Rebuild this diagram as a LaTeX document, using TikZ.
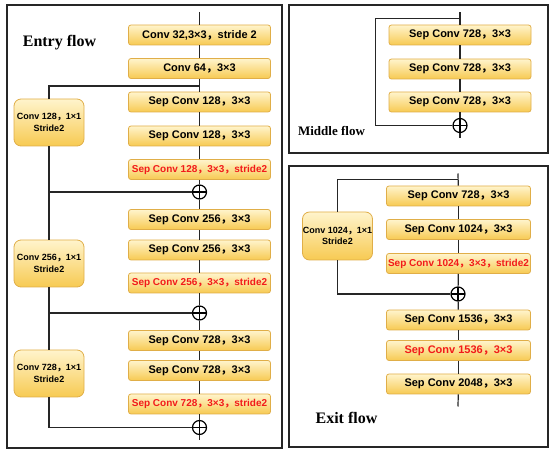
\documentclass[tikz,border=0pt]{standalone}
\usepackage{fontspec}
\setmainfont{Liberation Sans}
\newfontfamily\titlefont{Liberation Serif}
\newfontfamily\cjk{Noto Sans CJK SC}
\newcommand{\cm}{{\cjk ，}}
\definecolor{boxtop}{HTML}{FFF4CC}
\definecolor{boxbot}{HTML}{F7CA52}
\definecolor{boxline}{HTML}{E0AE48}
\definecolor{redtxt}{HTML}{F21A1A}
\tikzstyle{line} = [line width=1.2pt, black!85]
\tikzstyle{frame} = [line width=2pt, black!85]
\tikzstyle{flowbox}=[rectangle, rounded corners=2.5pt, draw=boxline, line width=0.8pt, top color=boxtop, bottom color=boxbot, minimum width=142pt, minimum height=20pt, inner sep=0pt, font=\fontsize{11}{13}\selectfont\bfseries]
\tikzstyle{redbox}=[flowbox, text=redtxt, font=\fontsize{10}{12}\selectfont\bfseries]
\tikzstyle{sidebox}=[rectangle, rounded corners=7pt, draw=boxline, line width=0.8pt, top color=boxtop, bottom color=boxbot, minimum width=70pt, minimum height=47pt, inner sep=0pt, align=center, font=\fontsize{9}{11.5}\selectfont\bfseries]
\tikzstyle{addnode}=[circle, draw, line width=1.2pt, minimum size=14pt, inner sep=0pt, path picture={\draw[line width=1.2pt] (path picture bounding box.north) -- (path picture bounding box.south) (path picture bounding box.west) -- (path picture bounding box.east);}]

\begin{document}
\begin{tikzpicture}[x=1pt, y=-1pt, flowtitle/.style={font=\titlefont\bfseries\fontsize{16}{18}\selectfont}]
        \useasboundingbox (0,0) rectangle (550,457);
        % panels
        \draw[frame] (7,5) rectangle (282,448);
        \draw[frame] (289,5) rectangle (548,153);
        \draw[frame] (289,166) rectangle (548,447);

        % entry flow
        \node[flowtitle] (tEntry) at (59.5,43) {Entry flow};
        \coordinate (et) at (199.5,12);
        \node[flowbox] (e1) at (199.5,35) {Conv 32,3×3\cm stride 2};
        \node[flowbox] (e2) at (199.5,68.5) {Conv 64\cm 3×3};
        \coordinate (eb1) at (199.5,86);
        \node[flowbox] (e3) at (199.5,102) {Sep Conv 128\cm 3×3};
        \node[flowbox] (e4) at (199.5,136) {Sep Conv 128\cm 3×3};
        \node[redbox] (e5) at (199.5,169.5) {Sep Conv 128\cm 3×3\cm stride2};
        \node[addnode] (ep1) at (199.5,192) {};
        \node[flowbox] (e6) at (199.5,219.5) {Sep Conv 256\cm 3×3};
        \node[flowbox] (e7) at (199.5,250) {Sep Conv 256\cm 3×3};
        \node[redbox] (e8) at (199.5,283) {Sep Conv 256\cm 3×3\cm stride2};
        \node[addnode] (ep2) at (199.5,313) {};
        \node[flowbox] (e9) at (199.5,340.5) {Sep Conv 728\cm 3×3};
        \node[flowbox] (e10) at (199.5,370.5) {Sep Conv 728\cm 3×3};
        \node[redbox] (e11) at (199.5,404) {Sep Conv 728\cm 3×3\cm stride2};
        \node[addnode] (ep3) at (199.5,427.5) {};
        \coordinate (ee) at (199.5,440);

        \node[sidebox] (s1) at (49,122.5) {Conv 128\cm 1×1\\Stride2};
        \node[sidebox] (s2) at (49,263.5) {Conv 256\cm 1×1\\Stride2};
        \node[sidebox] (s3) at (49,373.5) {Conv 728\cm 1×1\\Stride2};

        \draw[line] (et) -- (e1);
        \draw[line] (e1) -- (e2);
        \draw[line] (e2) -- (e3);
        \draw[line] (e3) -- (e4);
        \draw[line] (e4) -- (e5);
        \draw[line] (e5) -- (ep1);
        \draw[line] (ep1) -- (e6);
        \draw[line] (e6) -- (e7);
        \draw[line] (e7) -- (e8);
        \draw[line] (e8) -- (ep2);
        \draw[line] (ep2) -- (e9);
        \draw[line] (e9) -- (e10);
        \draw[line] (e10) -- (e11);
        \draw[line] (e11) -- (ep3);
        \draw[line] (ep3) -- (ee);

        \draw[line] (eb1) -| (s1);
        \draw[line] (s1) -- (s2);
        \draw[line] (ep1) -- (ep1 -| s1);
        \draw[line] (s2) -- (s3);
        \draw[line] (ep2) -- (ep2 -| s2);
        \draw[line] (s3) |- (ep3);

        % middle flow
        \node[flowtitle, font=\titlefont\bfseries\fontsize{13}{15}\selectfont] (tMiddle) at (331.5,131) {Middle flow};
        \coordinate (mt) at (460,12.5);
        \coordinate (mb1) at (460,18.5);
        \node[flowbox] (m1) at (460,35) {Sep Conv 728\cm 3×3};
        \node[flowbox] (m2) at (460,69) {Sep Conv 728\cm 3×3};
        \node[flowbox] (m3) at (460,102) {Sep Conv 728\cm 3×3};
        \node[addnode] (mp) at (460,125.5) {};
        \coordinate (me) at (460,138);
        \coordinate (ml) at (375.5,70);

        \draw[line] (mt) -- (m1);
        \draw[line] (m1) -- (m2);
        \draw[line] (m2) -- (m3);
        \draw[line] (m3) -- (mp);
        \draw[line] (mp) -- (me);
        \draw[line] (mb1) -| (ml) |- (mp);

        % exit flow
        \node[flowtitle] (tExit) at (346.5,418) {Exit flow};
        \coordinate (xt) at (458,173.5);
        \coordinate (xb1) at (458,179.5);
        \node[flowbox, minimum width=144pt] (x1) at (458.5,196) {Sep Conv 728\cm 3×3};
        \node[flowbox, minimum width=144pt] (x2) at (458.5,229.5) {Sep Conv 1024\cm 3×3};
        \node[redbox, minimum width=144pt] (x3) at (458.5,263.5) {Sep Conv 1024\cm 3×3\cm stride2};
        \node[addnode] (xp) at (458,294) {};
        \node[flowbox, minimum width=144pt] (x4) at (458.5,320) {Sep Conv 1536\cm 3×3};
        \node[redbox, minimum width=144pt, font=\fontsize{11}{13}\selectfont\bfseries] (x5) at (458.5,350.5) {Sep Conv 1536\cm 3×3};
        \node[flowbox, minimum width=144pt] (x6) at (458.5,384) {Sep Conv 2048\cm 3×3};
        \coordinate (xe) at (458,406.5);
        \node[sidebox, minimum height=48pt] (sx) at (337.5,236) {Conv 1024\cm 1×1\\Stride2};

        \draw[line] (xt) -- (x1);
        \draw[line] (x1) -- (x2);
        \draw[line] (x2) -- (x3);
        \draw[line] (x3) -- (xp);
        \draw[line] (xp) -- (x4);
        \draw[line] (x4) -- (x5);
        \draw[line] (x5) -- (x6);
        \draw[line] (x6) -- (xe);
        \draw[line] (xb1) -| (sx);
        \draw[line] (sx) |- (xp);
\end{tikzpicture}
\end{document}
